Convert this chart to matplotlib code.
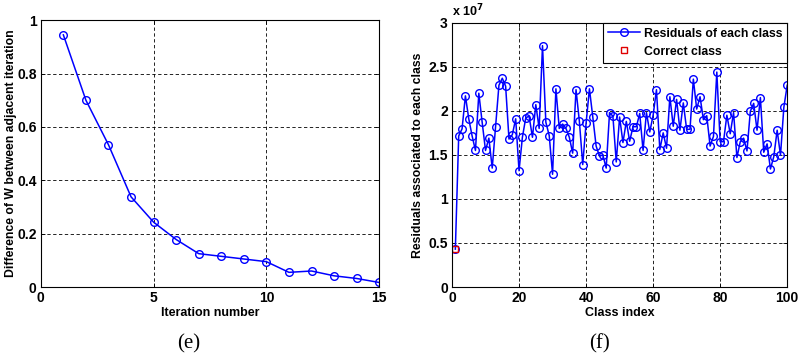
import numpy as np
import matplotlib
matplotlib.use("Agg")
import matplotlib.pyplot as plt
from matplotlib.ticker import FuncFormatter

# (e) convergence of W
iterations = list(range(1, 16))
w_diff = [0.945, 0.700, 0.533, 0.338, 0.243, 0.178, 0.125, 0.115,
          0.105, 0.095, 0.055, 0.060, 0.042, 0.032, 0.017]

# (f) residuals per class (units of 1e7)
class_idx = list(range(1, 101))
residuals_e7 = [
    0.43, 1.715, 1.795, 2.17, 1.91, 1.715, 1.55, 2.20, 1.87, 1.55,
    1.69, 1.35, 1.82, 2.29, 2.37, 2.28, 1.68, 1.73, 1.91, 1.32,
    1.70, 1.92, 1.94, 1.70, 2.07, 1.80, 2.74, 1.87, 1.72, 1.28,
    2.25, 1.80, 1.85, 1.80, 1.70, 1.52, 2.24, 1.88, 1.39, 1.86,
    2.25, 1.93, 1.60, 1.485, 1.50, 1.35, 1.98, 1.94, 1.42, 1.93,
    1.64, 1.88, 1.655, 1.82, 1.82, 1.97, 1.55, 1.98, 1.76, 1.95,
    2.24, 1.56, 1.75, 1.575, 2.16, 1.825, 2.13, 1.78, 2.09, 1.79,
    1.79, 2.36, 2.02, 2.16, 1.90, 1.945, 1.60, 1.71, 2.44, 1.65,
    1.65, 1.95, 1.74, 1.98, 1.47, 1.65, 1.69, 1.545, 1.995, 2.085,
    1.78, 2.15, 1.53, 1.625, 1.34, 1.48, 1.78, 1.495, 2.04, 2.29,
]
residuals = np.array(residuals_e7) * 1e7
correct_class = 1

plt.rcParams['font.family'] = 'Liberation Sans'
plt.rcParams['font.weight'] = 'bold'
plt.rcParams['font.size'] = 8

fig = plt.figure(figsize=(8, 3.64), dpi=100)
ax1 = fig.add_axes([0.051, 0.2115, 0.423, 0.733])
ax2 = fig.add_axes([0.565, 0.2115, 0.419, 0.726])

blue = '#0000ff'

def matlab_style(ax):
    ax.grid(True, color='black', linestyle=(0, (4, 3)), linewidth=0.6)
    ax.tick_params(direction='in', top=True, right=True, length=3, width=0.6,
                   labelsize=10, pad=3)
    for s in ax.spines.values():
        s.set_linewidth(0.8)
    ax.set_axisbelow(True)

ax1.plot(iterations, w_diff, color=blue, marker='o', markerfacecolor='none',
         markeredgecolor=blue, markersize=5.5, linewidth=1.1, markeredgewidth=1.0)
ax1.set_xlim(0, 15)
ax1.set_ylim(0, 1)
ax1.set_xticks([0, 5, 10, 15])
ax1.set_yticks([0, 0.2, 0.4, 0.6, 0.8, 1])
ax1.yaxis.set_major_formatter(FuncFormatter(lambda v, p: f"{v:g}"))
ax1.set_xlabel('Iteration number', fontweight='bold', fontsize=9, labelpad=1)
ax1.set_ylabel('Difference of W between adjacent iteration', fontweight='bold',
               fontsize=8.8, labelpad=0)
matlab_style(ax1)

ax2.plot(class_idx, residuals, color=blue, marker='o', markerfacecolor='none',
         markeredgecolor=blue, markersize=5.5, linewidth=1.1, markeredgewidth=1.0,
         label='Residuals of each class')
ax2.plot([class_idx[correct_class - 1]], [residuals[correct_class - 1]],
         linestyle='none', marker='s', markerfacecolor='none',
         markeredgecolor='#e00000', markersize=5, markeredgewidth=1.0,
         label='Correct class')
ax2.set_xlim(0, 100)
ax2.set_ylim(0, 3e7)
ax2.set_xticks([0, 20, 40, 60, 80, 100])
ax2.set_yticks(np.arange(0, 3.01e7, 0.5e7))
ax2.yaxis.set_major_formatter(FuncFormatter(lambda v, p: f"{v / 1e7:g}"))
ax2.text(0.0, 1.012, 'x 10$^{7}$', transform=ax2.transAxes, fontsize=9,
         fontweight='bold', ha='left', va='bottom')
ax2.set_xlabel('Class index', fontweight='bold', fontsize=9, labelpad=1)
ax2.set_ylabel('Residuals associated to each class', fontweight='bold',
               fontsize=8.8, labelpad=3)
matlab_style(ax2)
leg = ax2.legend(loc='upper right', fancybox=False, framealpha=1,
                 edgecolor='black', fontsize=8.8, borderaxespad=0.0,
                 handlelength=2.6, handletextpad=0.3, borderpad=0.4,
                 labelspacing=0.5)
leg.get_frame().set_linewidth(0.8)

fig.text(0.236, 0.055, '(e)', family='Liberation Serif', fontweight='normal',
         fontsize=15, ha='center', va='center')
fig.text(0.749, 0.055, '(f)', family='Liberation Serif', fontweight='normal',
         fontsize=15, ha='center', va='center')

fig.savefig('out.png', dpi=100)
